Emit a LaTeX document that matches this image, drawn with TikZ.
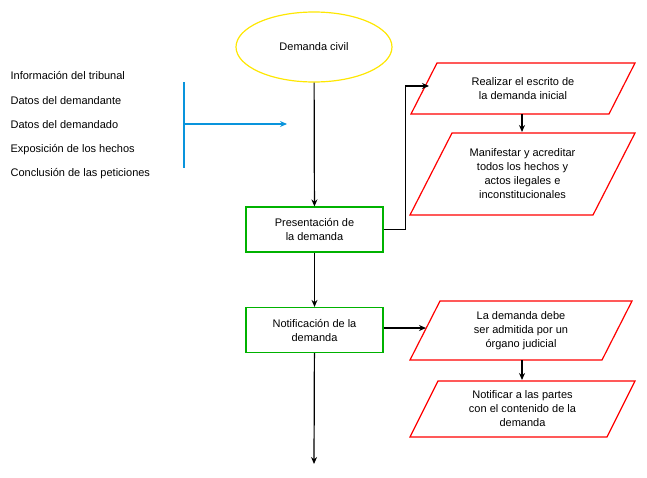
\documentclass[tikz,border=0pt]{standalone}
\usepackage{fontspec}
\setmainfont{Liberation Sans}
\usetikzlibrary{shapes.geometric,arrows.meta}
\begin{document}
\begin{tikzpicture}[x=1pt,y=-1pt,font=\fontsize{11}{14}\selectfont,line width=1.2pt,
 arr/.style={-{Stealth[length=7pt,width=6pt]}},
 gbox/.style={draw=green!70!black,fill=white,minimum width=137pt,minimum height=45pt,align=center},
 para/.style={draw=red},
 txt/.style={align=center}]
\useasboundingbox (0,0) rectangle (647,477);
\node[ellipse,draw=yellow!90!orange,minimum width=156pt,minimum height=70pt] (dc) at (314,47) {Demanda civil};
\foreach \t/\y in {Información del tribunal/76,Datos del demandante/101,Datos del demandado/125,Exposición de los hechos/150,Conclusión de las peticiones/174}
  \node[anchor=west,inner sep=0] at (10,\y) {\t};
\draw[cyan!80!blue] (184,82) -- (184,168);
\coordinate (bl) at (184,124); \coordinate (br) at (287,124);
\draw[cyan!80!blue,-{Stealth[length=7pt,width=6pt]}] (bl) -- (br);
\node[gbox] (b1) at (314.5,229.5) {Presentación de\\la demanda};
\node[gbox] (b2) at (314.5,330) {Notificación de la\\demanda};
\coordinate (end) at (314,464);
\draw[arr] (dc) -- (b1);
\draw[arr] (b1) -- (b2);
\draw[arr] (b2) -- (end);
\draw[para] (437,63) -- (635,63) -- (609,114) -- (411,114) -- cycle;
\node[txt] (p1) at (523,88.5) {Realizar el escrito de\\la demanda inicial};
\draw[para] (452,133) -- (635,133) -- (593,215) -- (410,215) -- cycle;
\node[txt] (p2) at (522.5,174) {Manifestar y acreditar\\todos los hechos y\\actos ilegales e\\inconstitucionales};
\draw[para] (440,301) -- (632,301) -- (602,360) -- (410,360) -- cycle;
\node[txt] (p3) at (521,330.5) {La demanda debe\\ser admitida por un\\órgano judicial};
\draw[para] (438,381) -- (635,381) -- (607,437) -- (410,437) -- cycle;
\node[txt] (p4) at (522.5,409) {Notificar a las partes\\con el contenido de la\\demanda};
\coordinate (p1t) at (522,114); \coordinate (p2t) at (522,132);
\coordinate (p3b) at (522,360); \coordinate (p4t) at (522,380);
\coordinate (p1l) at (429,86); \coordinate (p3l) at (426,328);
\draw[arr] (p1t) -- (p2t);
\draw[arr] (p3b) -- (p4t);
\draw[arr] (b1.east) -- ++(22,0) |- (p1l);
\draw[arr] (b2.east |- p3l) -- (p3l);
\end{tikzpicture}
\end{document}
